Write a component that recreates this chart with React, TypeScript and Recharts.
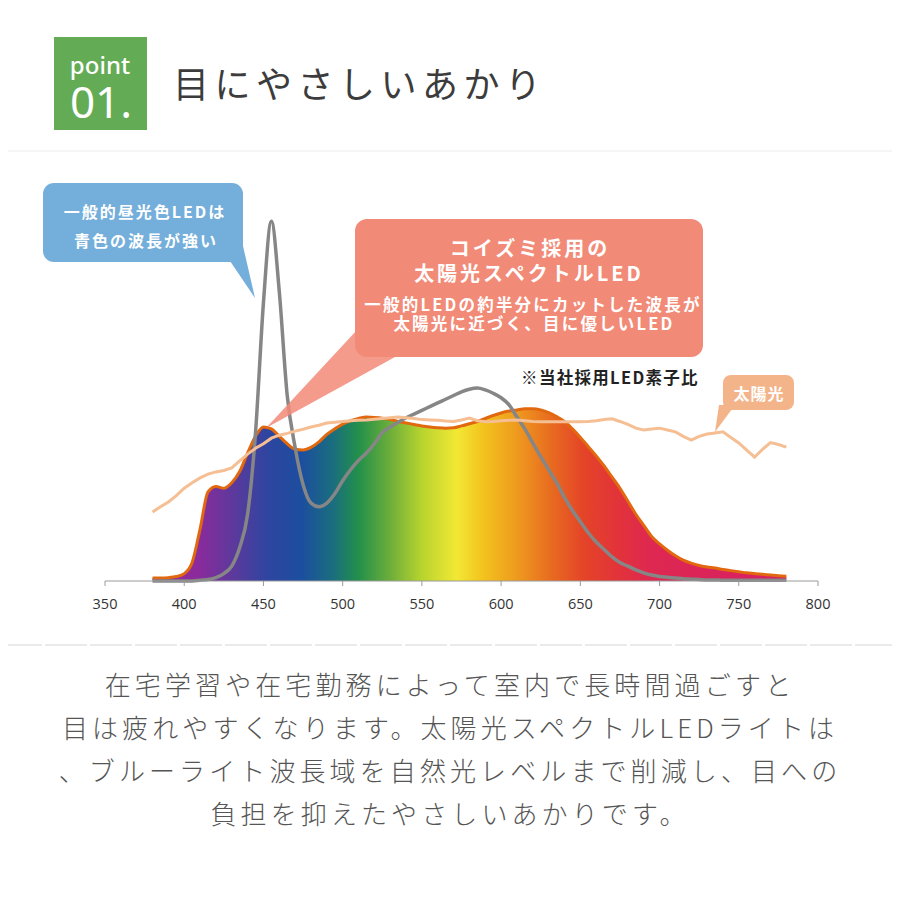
import React from "react";
import { ComposedChart, Area, Line, XAxis, YAxis } from "recharts";

// wavelength (nm)
const wavelengths = [
  380, 385, 390, 395, 400, 405, 410, 415, 420, 425,
  430, 435, 440, 445, 450, 455, 460, 465, 470, 475,
  480, 485, 490, 495, 500, 505, 510, 515, 520, 525,
  530, 535, 540, 545, 550, 555, 560, 565, 570, 575,
  580, 585, 590, 595, 600, 605, 610, 615, 620, 625,
  630, 635, 640, 645, 650, 655, 660, 665, 670, 675,
  680, 685, 690, 695, 700, 705, 710, 715, 720, 725,
  730, 735, 740, 745, 750, 755, 760, 765, 770, 775,
  780,
];

// コイズミ採用 太陽光スペクトルLED
const koizumiLed = [
  0.8, 0.8, 0.9, 1.2, 2, 5, 14, 24, 25.5, 25,
  26.5, 29.5, 34.5, 39, 41.5, 41, 39, 37, 35.5, 35.3,
  36, 37.5, 39.5, 41, 42.3, 43.2, 43.8, 44.2, 44.1, 43.9,
  43.5, 43, 42.6, 42.2, 41.8, 41.5, 41.3, 41.2, 41.3, 41.8,
  42.4, 43, 43.8, 44.6, 45.3, 45.8, 46.1, 46.4, 46.4, 46.1,
  45.4, 44.3, 43, 41, 38.7, 36.2, 33.7, 31, 28, 25,
  21.5, 18, 15, 12, 10, 8.3, 6.8, 5.6, 4.8, 4.2,
  3.8, 3.5, 3.1, 2.8, 2.5, 2.2, 2, 1.8, 1.6, 1.4,
  1.3,
];

// 一般的昼光色LED
const generalLed = [
  0, 0, 0, 0, 0, 0, 0.2, 0.4, 0.9, 2,
  4, 9, 18, 40, 75, 97, 78, 50, 36, 26,
  21, 20, 21, 23.5, 27, 30, 32.5, 34.5, 37, 40,
  41.5, 42.8, 44, 45, 46, 47, 48, 49, 50, 51,
  51.7, 52, 51.5, 50.6, 49.4, 47.5, 44.2, 41, 37.2, 33.5,
  30, 26.5, 22.5, 19, 16, 13, 10.5, 8.5, 6.5, 5,
  4, 3, 2.2, 1.6, 1.2, 1, 0.8, 0.6, 0.5, 0.4,
  0.3, 0.3, 0.2, 0.2, 0.2, 0.2, 0.2, 0.2, 0.2, 0.2,
  0.2,
];

// 太陽光
const sunlight = [
  18.6, 20, 21.3, 23, 25, 26.5, 27.8, 28.8, 29.4, 29.8,
  30.5, 32.4, 34.2, 35.8, 37, 38.5, 39.3, 39.8, 40.4, 40.9,
  41.5, 42, 42.6, 42.8, 43, 43.2, 43.3, 43.4, 43.6, 43.8,
  44, 44.2, 44, 43.8, 43.5, 43.4, 43.3, 43.1, 43, 43.4,
  43.9, 43.2, 42.9, 43, 43.2, 43.3, 43.4, 43.2, 43, 42.9,
  42.9, 42.9, 42.9, 42.9, 42.9, 43, 43.2, 43.5, 43.7, 43,
  42.2, 41.2, 40.7, 41, 41.2, 40.7, 40.2, 39, 38, 39,
  39.6, 39.9, 40.2, 38.7, 37.2, 35.3, 33.4, 35.5, 37.3, 36.8,
  36.1,
];

const xTicks = [350, 400, 450, 500, 550, 600, 650, 700, 750, 800];

const bodyLines = [
  "在宅学習や在宅勤務によって室内で長時間過ごすと",
  "目は疲れやすくなります。太陽光スペクトルLEDライトは",
  "、ブルーライト波長域を自然光レベルまで削減し、目への",
  "負担を抑えたやさしいあかりです。",
];

const rainbow = [
  [0, "#9B2C96"],
  [0.07, "#8C2A9C"],
  [0.13, "#5A3A9C"],
  [0.18, "#2F45A0"],
  [0.235, "#1C4E9F"],
  [0.285, "#1A6E7E"],
  [0.325, "#22904A"],
  [0.375, "#6DAE3A"],
  [0.425, "#B8D42E"],
  [0.48, "#F2E834"],
  [0.52, "#F3C41E"],
  [0.575, "#EE9A1E"],
  [0.63, "#E86A20"],
  [0.68, "#E44428"],
  [0.735, "#E2333A"],
  [0.785, "#DE2850"],
  [1, "#D81E66"],
];

const data = wavelengths.map((nm, i) => ({
  nm,
  koizumi: koizumiLed[i],
  general: generalLed[i],
  sun: sunlight[i],
}));

const JP = '"Noto Sans CJK JP", "Noto Sans", sans-serif';

export default function App() {
  return (
    <div style={{ position: "relative", width: 900, height: 900, margin: -8, background: "#fff", overflow: "hidden" }}>
      <div style={{ position: "absolute", left: 0, top: 0 }}>
        <ComposedChart width={900} height={640} data={data} margin={{ top: 210, right: 82, bottom: 29, left: 105 }}>
          <defs>
            <linearGradient id="rainbow" x1="0" y1="0" x2="1" y2="0">
              {rainbow.map(([o, c]) => (
                <stop key={String(o)} offset={o as number} stopColor={c as string} />
              ))}
            </linearGradient>
          </defs>
          <XAxis
            dataKey="nm"
            type="number"
            domain={[350, 800]}
            ticks={xTicks}
            stroke="#9a9a9a"
            tickSize={5}
            tickMargin={13}
            tick={{ fill: "#333", fontSize: 14.5, fontFamily: '"Open Sans", sans-serif' }}
          />
          <YAxis hide domain={[0, 100]} />
          <Area type="monotone" dataKey="koizumi" stroke="#E2680F" strokeWidth={3} fill="url(#rainbow)" fillOpacity={1} isAnimationActive={false} />
          <Line type="monotone" dataKey="general" stroke="#868686" strokeWidth={3.5} dot={false} isAnimationActive={false} />
          <Line type="linear" dataKey="sun" stroke="#F5BE93" strokeWidth={3} dot={false} isAnimationActive={false} />
        </ComposedChart>
      </div>

      <svg width={900} height={900} style={{ position: "absolute", left: 0, top: 0, pointerEvents: "none" }}>
        {/* header */}
        <rect x={54} y={37} width={93} height={93} fill="#63AC55" />
        <text fill="#fff" fontFamily='"Noto Sans", sans-serif' textAnchor="middle" dominantBaseline="central">
          <tspan x={100} y={64} fontSize={24} fontWeight={500}>point</tspan>
          <tspan x={101} y={101} fontSize={44}>01.</tspan>
        </text>
        <text x={173} y={82} fill="#3c3c3c" fontSize={36} fontFamily={JP} dominantBaseline="central" style={{ letterSpacing: 5.5 }}>目にやさしいあかり</text>
        <line x1={0} y1={151} x2={900} y2={151} stroke="#ececec" strokeWidth={1} />

        {/* blue callout */}
        <rect x={43} y={183} width={200} height={79} rx={11} fill="#74AEDA" />
        <polygon points="228,258 243,246 255,298" fill="#74AEDA" />
        <text fill="#fff" fontSize={16} fontWeight={700} fontFamily={JP} textAnchor="middle" dominantBaseline="central" style={{ letterSpacing: 2 }}>
          <tspan x={145} y={211}>一般的昼光色LEDは</tspan>
          <tspan x={146} y={240}>青色の波長が強い</tspan>
        </text>

        {/* salmon callout */}
        <polygon points="357,330 395,357 266,428" fill="#F28A78" fillOpacity={0.85} />
        <rect x={355} y={219} width={348} height={138} rx={12} fill="#F28A78" />
        <text fill="#fff" fontSize={20} fontWeight={700} fontFamily={JP} textAnchor="middle" dominantBaseline="central" style={{ letterSpacing: 3 }}>
          <tspan x={530} y={247}>コイズミ採用の</tspan>
          <tspan x={529} y={272}>太陽光スペクトルLED</tspan>
        </text>
        <text fill="#fff" fontSize={16.5} fontWeight={700} fontFamily={JP} textAnchor="middle" dominantBaseline="central" style={{ letterSpacing: 2.2 }}>
          <tspan x={533} y={304}>一般的LEDの約半分にカットした波長が</tspan>
          <tspan x={534} y={323}>太陽光に近づく、目に優しいLED</tspan>
        </text>

        <text x={610} y={377} fill="#222" fontSize={16.5} fontWeight={700} fontFamily={JP} textAnchor="middle" dominantBaseline="central" style={{ letterSpacing: 1.3 }}>※当社採用LED素子比</text>

        {/* sunlight callout */}
        <rect x={723} y={375} width={71} height={35} rx={8} fill="#F3B48A" />
        <polygon points="719,405 735,405 715,432" fill="#F3B48A" />
        <text x={759} y={393} fill="#fff" fontSize={16} fontWeight={700} fontFamily={JP} textAnchor="middle" dominantBaseline="central" style={{ letterSpacing: 1 }}>太陽光</text>

        {/* body text */}
        <line x1={0} y1={645} x2={900} y2={645} stroke="#e3e3e3" strokeWidth={1.5} strokeDasharray="42 3" />
        {bodyLines.map((t, i) => (
          <text key={i} x={450} y={683 + i * 43} fill="#555" fontSize={26} fontWeight={300} fontFamily={JP} textAnchor="middle" dominantBaseline="central" style={{ letterSpacing: 4.1 }}>
            {t}
          </text>
        ))}
      </svg>
    </div>
  );
}
